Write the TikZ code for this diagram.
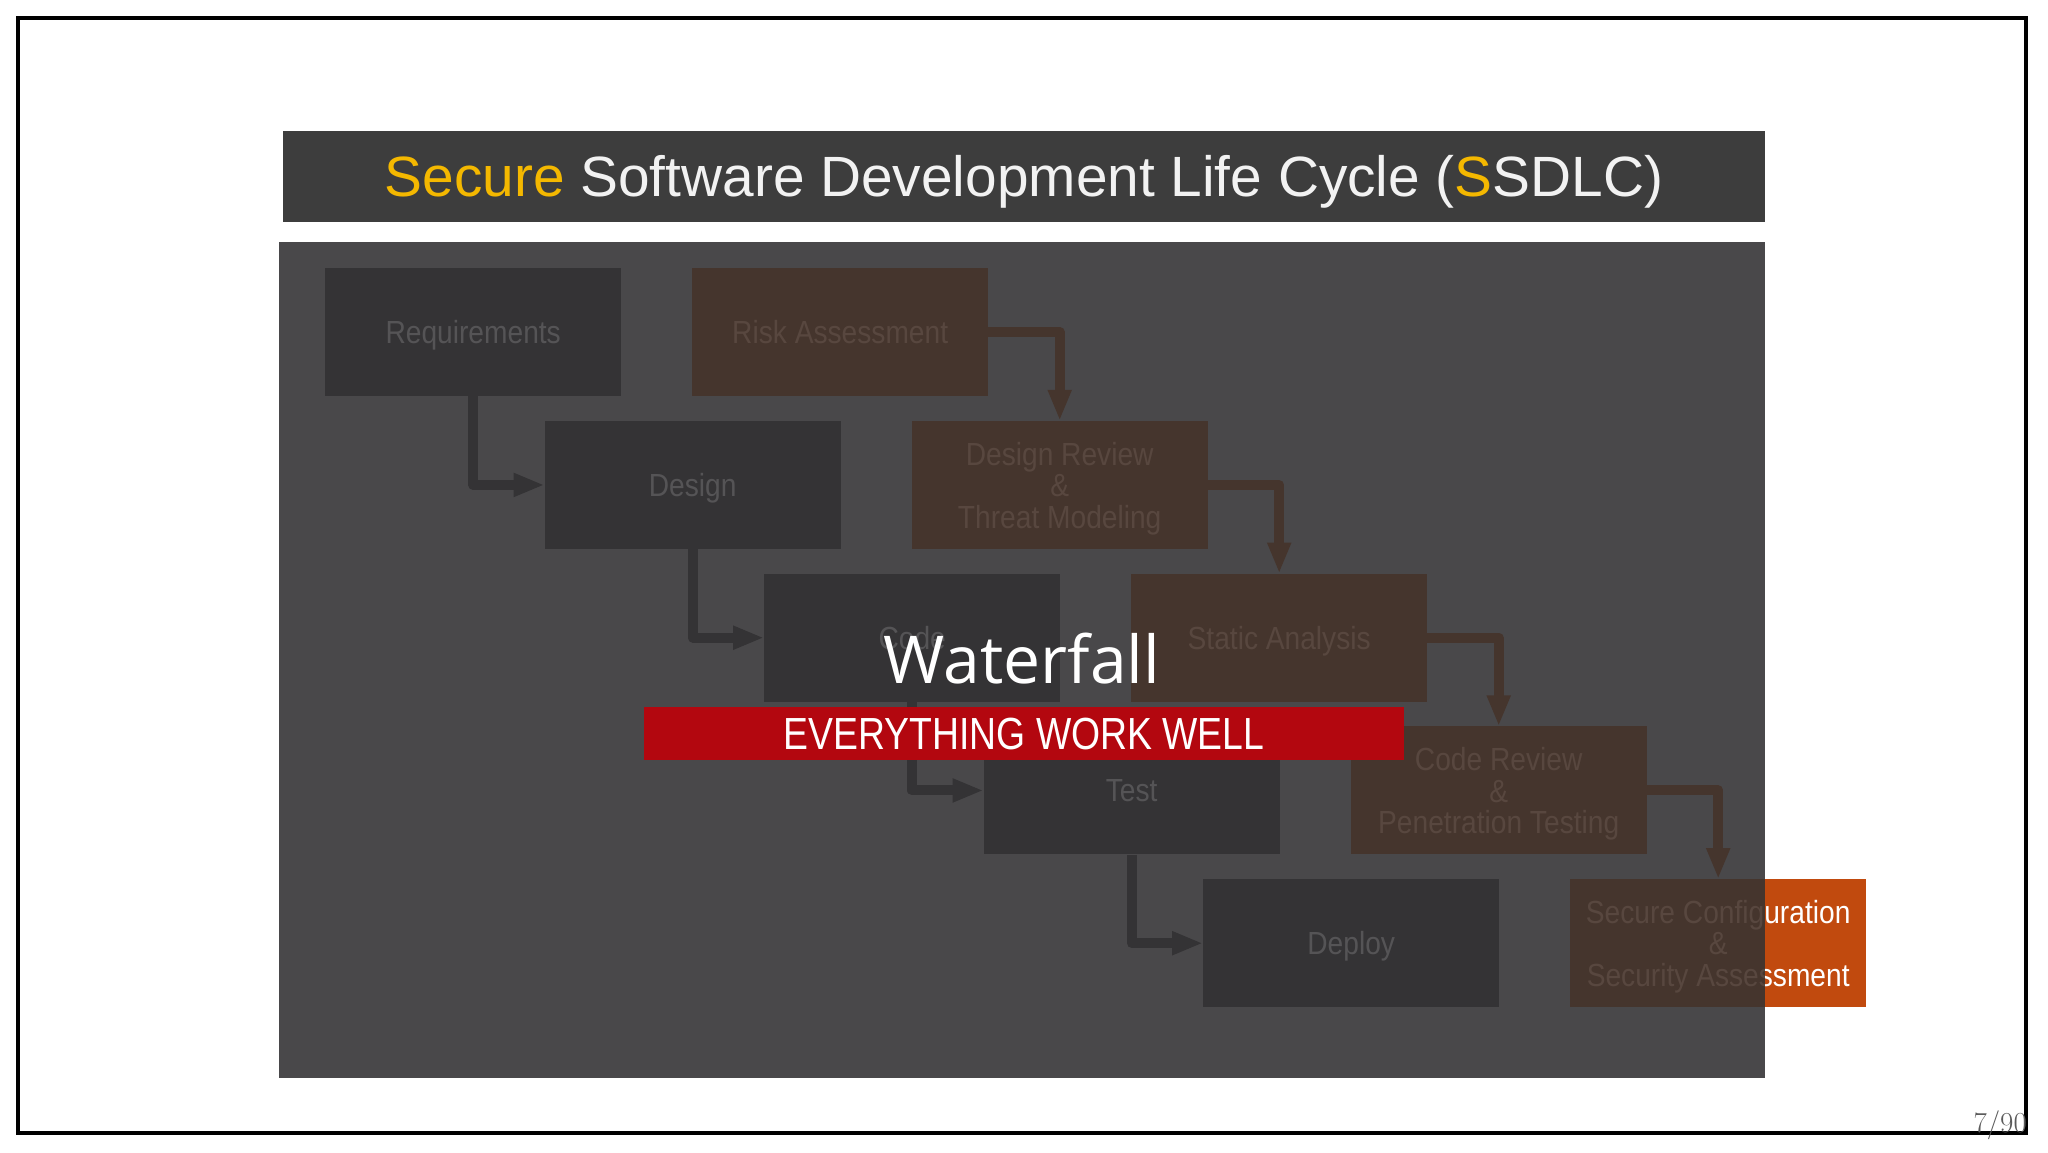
\documentclass[tikz,border=0pt]{standalone}
\usepackage{fontspec}
\usetikzlibrary{arrows.meta}
\newfontfamily\titlefont{Liberation Sans}
\newfontfamily\boxfont[FakeStretch=0.88]{Liberation Sans}
\newfontfamily\bannerfont[FakeStretch=0.83]{Liberation Sans}
\newfontfamily\wfont{Open Sans}
\definecolor{titlebg}{HTML}{3D3D3D}
\definecolor{titlew}{HTML}{F2F2F2}
\definecolor{gold}{HTML}{F4B800}
\definecolor{panel}{HTML}{49484A}
\definecolor{darkbox}{HTML}{343335}
\definecolor{darktext}{HTML}{555456}
\definecolor{brownbox}{HTML}{45352D}
\definecolor{browntext}{HTML}{58473F}
\definecolor{bannerred}{HTML}{B3070F}
\definecolor{orangebox}{HTML}{C14A0E}
\definecolor{pagegrey}{HTML}{5A5A5A}
\tikzset{
  stagebox/.style={rectangle, minimum width=296pt, minimum height=128pt, inner sep=0pt,
    anchor=north west, align=center, text depth=0pt, font=\boxfont\fontsize{32}{31.5}\selectfont},
  darkstage/.style={stagebox, fill=darkbox, text=darktext},
  brownstage/.style={stagebox, fill=brownbox, text=browntext},
  orangestage/.style={stagebox, fill=orangebox, text=white},
  darrow/.style={draw=darkbox, line width=10pt, line join=round,
    -{Triangle[length=31pt,width=22pt]}},
  barrow/.style={draw=brownbox, line width=10pt, line join=round,
    -{Triangle[length=31pt,width=22pt]}}
}
\begin{document}
\begin{tikzpicture}[x=1pt,y=-1pt]
\useasboundingbox (0,0) rectangle (2048,1152);
\fill[white] (0,0) rectangle (2048,1152);
% frame
\draw[line width=4pt] (18,18) rectangle (2026,1133);
% title bar
\node[fill=titlebg, minimum width=1482pt, minimum height=91pt, inner sep=0pt] (titlebar) at (1024,176.5) {};
\node[anchor=base, text=titlew, font=\titlefont\fontsize{56.8}{60}\selectfont, inner sep=0pt] (title) at (1024,196)
  {\textcolor{gold}{Secure} Software Development Life Cycle (\textcolor{gold}{S}SDLC)};
% panel
\node[fill=panel, minimum width=1486pt, minimum height=836pt, inner sep=0pt, anchor=north west] (panelbox) at (279,242) {};
% stages
\node[darkstage] (req) at (325,268) {Requirements};
\node[brownstage] (risk) at (692,268) {Risk Assessment};
\node[darkstage] (des) at (544.5,420.75) {Design};
\node[brownstage] (drev) at (911.5,420.75) {Design Review\\\&\\Threat Modeling};
\node[darkstage] (code) at (764,573.5) {Code};
\node[brownstage] (stat) at (1131,573.5) {Static Analysis};
\node[darkstage] (test) at (983.5,726.25) {Test};
\node[brownstage] (crev) at (1350.5,726.25) {Code Review\\\&\\Penetration Testing};
\node[darkstage] (dep) at (1203,879) {Deploy};
\node[brownstage] (sconf) at (1570,879) {Secure Configuration\\\&\\Security Assessment};
\begin{scope}
  \clip (1765,860) rectangle (1880,1020);
  \node[orangestage] (sconfvis) at (1570,879) {Secure Configuration\\\&\\Security Assessment};
\end{scope}
% connectors
\draw[darrow] (req.south) |- (des.west);
\draw[darrow] (des.south) |- (code.west);
\draw[darrow] (code.south) |- (test.west);
\draw[darrow] (test.south) |- (dep.west);
\draw[barrow] (risk.east) -| (drev.north);
\draw[barrow] (drev.east) -| (stat.north);
\draw[barrow] (stat.east) -| (crev.north);
\draw[barrow] (crev.east) -| (sconf.north);
% overlay texts
\node[anchor=base, text=white, font=\wfont\fontsize{66}{70}\selectfont, inner sep=0pt] (waterfall) at (1022,683) {Waterfall};
\node[fill=bannerred, text=white, minimum width=760pt, minimum height=53pt, inner sep=0pt,
  font=\bannerfont\fontsize{45}{48}\selectfont] (banner) at (1024,733.5) {EVERYTHING WORK WELL};
% page number
\node[anchor=base east, text=pagegrey, font=\fontsize{29}{32}\selectfont, inner sep=0pt] (pagenum) at (2027,1132) {7/90};
\end{tikzpicture}
\end{document}
